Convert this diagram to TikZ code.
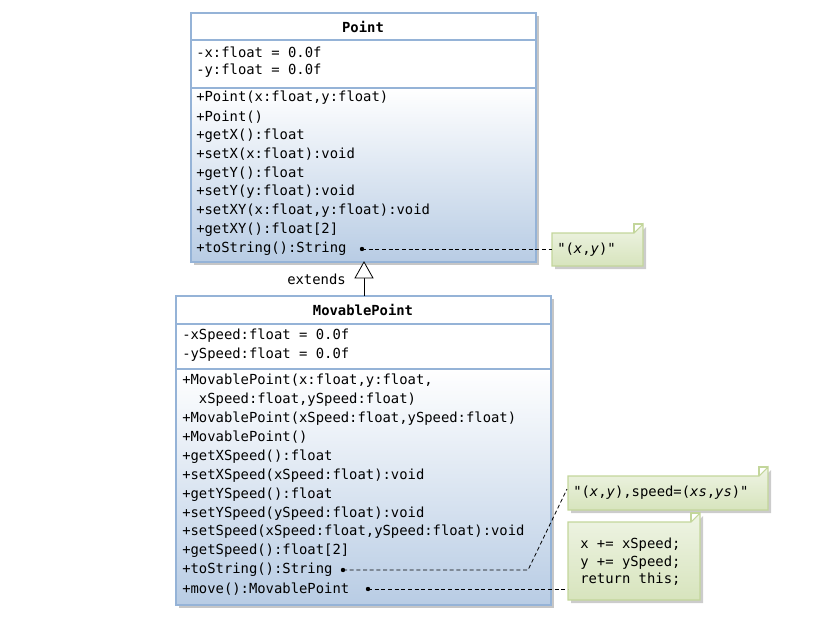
\documentclass[tikz,border=0pt]{standalone}
\usepackage{fontspec}
\setmonofont{DejaVu Sans Mono}
\usetikzlibrary{positioning}
\definecolor{umlline}{HTML}{95B3D7}
\definecolor{umlfill}{HTML}{B8CCE4}
\definecolor{notefill}{HTML}{D7E4BD}
\definecolor{noteline}{HTML}{C3D69B}
\tikzset{
  member/.style={anchor=west, inner sep=0pt, font=\ttfamily\fontsize{10.4}{13}\selectfont},
  title/.style={inner sep=0pt, font=\ttfamily\bfseries\fontsize{10.4}{13}\selectfont},
  box/.style={draw=umlline, line width=1pt},
  note/.style={draw=noteline, line width=0.8pt, top color=notefill!40, bottom color=notefill},
  link/.style={densely dashed, line width=0.6pt}
}
\newcommand{\notebox}[4]{% x1,y1,x2,y2
  \fill[gray!40] (#1+3,#2+3) -- (#3-6,#2+3) -- (#3+3,#2-6) -- (#3+3,#4+3) -- (#1+3,#4+3) -- cycle;
  \path[note] (#1,#2) -- (#3-9,#2) -- (#3,#2-9) |- (#1,#4) -- cycle;
  \draw[noteline, line width=0.8pt] (#3-9,#2) |- (#3,#2-9);
}
\begin{document}
\begin{tikzpicture}[x=0.75pt, y=-0.75pt]
\useasboundingbox (0,0) rectangle (831,617);

% Point class
\fill[gray!45] (194,16) rectangle (539,265);
\fill[white] (191,13) rectangle (536,88);
\shade[top color=white, bottom color=umlfill] (191,88) rectangle (536,262);
\draw[box] (191,13) rectangle (536,262);
\draw[box] (191,40) -- (536,40);
\draw[box] (191,88) -- (536,88);
\node[title] (pt) at (363,27) {Point};
\foreach \t [count=\i] in {-x:float = 0.0f, -y:float = 0.0f}
  \node[member] (pa\i) at (196,33+19*\i) {\t};
\foreach \t [count=\i] in {{+Point(x:float,y:float)}, +Point(), +getX():float,
    {+setX(x:float):void}, +getY():float, {+setY(y:float):void},
    {+setXY(x:float,y:float):void}, {+getXY():float[2]}, +toString():String}
  \node[member] (pm\i) at (196,79+18.85*\i) {\t};

% MovablePoint class
\fill[gray!45] (179,299) rectangle (554,608);
\fill[white] (176,296) rectangle (551,369);
\shade[top color=white, bottom color=umlfill] (176,369) rectangle (551,605);
\draw[box] (176,296) rectangle (551,605);
\draw[box] (176,324) -- (551,324);
\draw[box] (176,369) -- (551,369);
\node[title] (mp) at (363,310) {MovablePoint};
\foreach \t [count=\i] in {-xSpeed:float = 0.0f, -ySpeed:float = 0.0f}
  \node[member] (ma\i) at (182,317+19*\i) {\t};
\foreach \t [count=\i] in {{+MovablePoint(x:float,y:float,},
    {\ \ xSpeed:float,ySpeed:float)},
    {+MovablePoint(xSpeed:float,ySpeed:float)}, +MovablePoint(),
    +getXSpeed():float, {+setXSpeed(xSpeed:float):void}, +getYSpeed():float,
    {+setYSpeed(ySpeed:float):void}, {+setSpeed(xSpeed:float,ySpeed:float):void},
    {+getSpeed():float[2]}, +toString():String, +move():MovablePoint}
  \node[member] (mm\i) at (182,362+18.9*\i) {\t};

% generalization
\coordinate (tip) at (364,262);
\draw[line width=0.6pt] (364,296) -- (364,278);
\draw[line width=0.6pt, fill=white] (tip) -- (373,278) -- (355,278) -- cycle;
\node[member, anchor=east] (ext) at (346,279) {extends};

% notes
\notebox{552}{233}{643}{266}
\node[member] (n1) at (557,250) {"({\itshape x},{\itshape y})"};
\notebox{568}{476}{768}{510}
\node[member] (n2) at (573,493) {"({\itshape x},{\itshape y}),speed=({\itshape xs},{\itshape ys})"};
\notebox{568}{522}{700}{600}
\node[member, align=left] (n3) at (580,562) {x += xSpeed;\\y += ySpeed;\\return this;};

% links
\coordinate (d1) at (362,249);
\coordinate (d2) at (343,570);
\coordinate (d3) at (368,589);
\fill (d1) circle (2.2) (d2) circle (2.2) (d3) circle (2.2);
\draw[link] (d1) -- (552,249);
\draw[link] (d2) -- (528,570) -- (567,489);
\draw[link] (d3) -- (568,589);
\end{tikzpicture}
\end{document}
